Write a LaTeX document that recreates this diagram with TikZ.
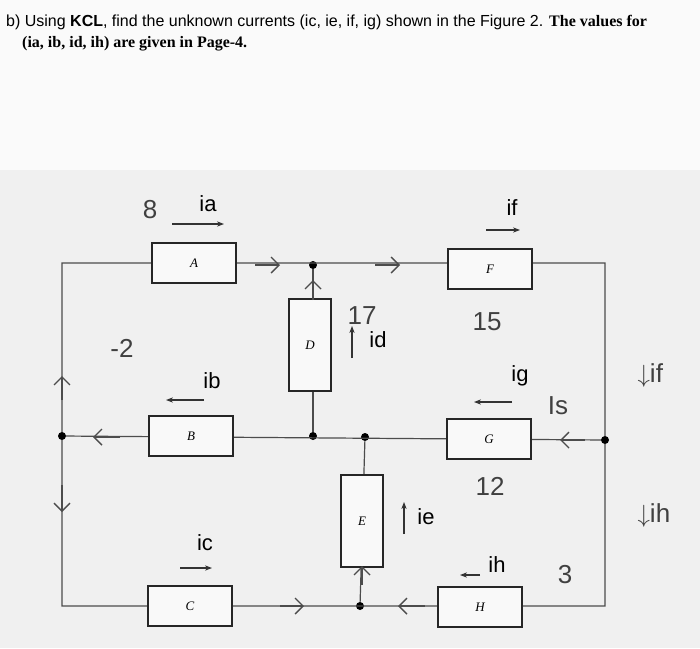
\documentclass[tikz,border=0pt]{standalone}
\usepackage{fontspec}
\setmainfont{Liberation Sans}
\newfontfamily\serifb{Liberation Serif}
\usetikzlibrary{arrows.meta}
\begin{document}
\begin{tikzpicture}[x=1pt,y=-1pt,
  wire/.style={draw=black!70,line width=1.2pt},
  comp/.style={draw=black!85,line width=2.2pt,fill=white!95!gray,minimum width=84pt,minimum height=40pt,font=\serifb\itshape\fontsize{13}{15}\selectfont},
  vcomp/.style={comp,minimum width=42pt,minimum height=92pt},
  dot/.style={circle,fill=black,inner sep=0pt,minimum size=8pt},
  lab/.style={font=\fontsize{22}{24}\selectfont},
  hand/.style={font=\fontsize{26}{28}\selectfont,text=black!75},
  cur/.style={-{Stealth[length=7pt]},line width=1.4pt,black!80},
  mk/.style={-{Straight Barb[length=8pt]},line width=1.4pt,black!70}]
\fill[gray!12] (0,0) rectangle (700,648);
\fill[white!96!gray] (0,0) rectangle (700,170);
\node[anchor=west,font=\fontsize{16}{18}\selectfont,inner sep=0pt] (t1) at (6,22) {b) Using \textbf{KCL}, find the unknown currents (ic, ie, if, ig) shown in the Figure 2. {\serifb\bfseries The values for}};
\node[anchor=west,font=\serifb\bfseries\fontsize{16}{18}\selectfont,inner sep=0pt] (t2) at (22,44) {(ia, ib, id, ih) are given in Page-4.};
\coordinate (tl) at (62,263); \coordinate (tr) at (605,263);
\coordinate (bl) at (62,606); \coordinate (br) at (605,606);
\node[dot] (nl) at (62,436) {};
\node[dot] (nr) at (605,440) {};
\node[dot] (n1) at (313,265) {};
\node[dot] (n2) at (313,436) {};
\node[dot] (n3) at (365,437) {};
\node[dot] (n4) at (360,606) {};
\draw[wire] (nl) -- (tl) -- (tr) -- (nr) -- (br) -- (bl) -- (nl) -- (nr);
\draw[wire] (n1) -- (n2); \draw[wire] (n3) -- (n4);
\node[comp] (A) at (194,263) {A};
\node[comp] (F) at (490,269) {F};
\node[comp] (B) at (191,436) {B};
\node[comp] (G) at (489,439) {G};
\node[comp] (C) at (190,606) {C};
\node[comp] (H) at (480,607) {H};
\node[vcomp] (D) at (310,345) {D};
\node[vcomp] (E) at (362,521) {E};
\draw[mk] (255,265) -- (280,265);
\draw[mk] (375,265) -- (400,265);
\draw[mk] (120,437) -- (93,437);
\draw[mk] (280,606) -- (304,606);
\draw[mk] (425,606) -- (398,606);
\draw[mk] (313,300) -- (313,280);
\draw[mk] (362,585) -- (362,566);
\draw[mk] (62,400) -- (62,376);
\draw[mk] (62,485) -- (62,512);
\draw[mk] (585,440) -- (560,440);
\node[lab] (ia) at (208,204) {ia}; \draw[cur] (172,224) -- (224,224);
\node[lab] (iff) at (512,208) {if}; \draw[cur] (486,230) -- (520,230);
\node[lab] (id) at (378,340) {id}; \draw[cur] (352,358) -- (352,326);
\node[lab] (ib) at (212,381) {ib}; \draw[cur] (204,400) -- (166,400);
\node[lab] (ig) at (520,376) {ig}; \draw[cur] (512,402) -- (474,402);
\node[lab] (ic) at (205,543) {ic}; \draw[cur] (180,568) -- (212,568);
\node[lab] (ie) at (426,517) {ie}; \draw[cur] (404,534) -- (404,502);
\node[lab] (ih) at (497,565) {ih}; \draw[cur] (480,575) -- (460,575);
\node[hand] (h8) at (150,210) {8};
\node[hand] (hm2) at (122,348) {-2};
\node[hand] (h17) at (362,316) {17};
\node[hand] (h15) at (487,322) {15};
\node[hand] (h12) at (490,486) {12};
\node[hand] (h3) at (565,575) {3};
\node[hand] (hIs) at (558,406) {Is};
\node[hand,anchor=west] (hif) at (634,375) {$\downarrow$if};
\node[hand,anchor=west] (hih) at (634,515) {$\downarrow$ih};
\end{tikzpicture}
\end{document}
